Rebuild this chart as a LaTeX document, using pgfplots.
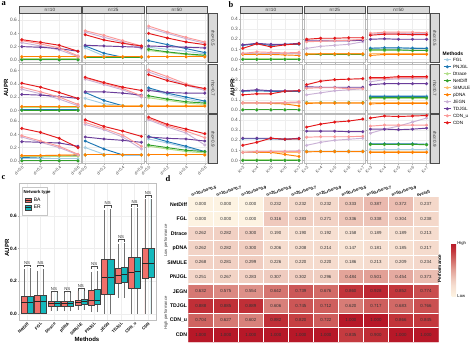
\documentclass[border=0pt]{standalone}
\usepackage{fontspec}
\setmainfont{Liberation Sans}
\newfontfamily\serifb{Liberation Serif}
\usepackage{pgfplots}
\usepackage{pgfplotstable}
\pgfplotsset{compat=1.18}
\usepgfplotslibrary{statistics}

\newcommand{\fs}[1]{\fontsize{#1pt}{#1pt}\selectfont}

\definecolor{cFGL}{HTML}{A6CEE3}
\definecolor{cPNJGL}{HTML}{1F78B4}
\definecolor{cDtrace}{HTML}{B2DF8A}
\definecolor{cNetDiff}{HTML}{33A02C}
\definecolor{cSIMULE}{HTML}{FDBF6F}
\definecolor{cpDNA}{HTML}{FF7F00}
\definecolor{cJEGN}{HTML}{CAB2D6}
\definecolor{cTDJGL}{HTML}{6A3D9A}
\definecolor{cCDNu}{HTML}{FB9A99}
\definecolor{cCDN}{HTML}{E31A1C}
\definecolor{cBA}{HTML}{F0706A}
\definecolor{cER}{HTML}{14B8BC}

\pgfplotsset{
  facet/.style={scale only axis, width=61.8pt, height=49pt, anchor=north west,
    axis line style={draw=gray!55, line width=0.35pt},
    tick pos=left, tick align=outside, major tick length=1.2pt,
    tick style={draw=gray!60, line width=0.3pt},
    grid=major, grid style={draw=gray!13, line width=0.35pt},
    xticklabels={}, yticklabels={},
    yticklabel style={font=\fs{4.8}, text=black!70, inner sep=0.8pt},
    xticklabel style={font=\fs{4.2}, text=black!70},
    every axis plot/.append style={line width=0.95pt, mark=*, mark size=1pt},
  },
  fa/.style={facet, xmin=-0.03, xmax=0.63, ymin=-0.04, ymax=0.70,
    xtick={0,0.2,0.4,0.6}, ytick={0,0.2,0.4,0.6}},
  fb/.style={facet, xmin=2.8, xmax=7.2, ymin=-0.03, ymax=0.455,
    xtick={3,4,5,6,7}, ytick={0,0.1,0.2,0.3,0.4}},
  xla/.style={xticklabels={{d=0.0},{d=0.2},{d=0.4},{d=0.6}},
    xticklabel style={rotate=45, anchor=north east, inner sep=0.5pt}},
  xlb/.style={xticklabels={{K=3},{K=4},{K=5},{K=6},{K=7}},
    xticklabel style={rotate=45, anchor=north east, inner sep=0.5pt}},
  yla/.style={yticklabels={0.0,0.2,0.4,0.6}},
  ylb/.style={yticklabels={0.0,0.1,0.2,0.3,0.4}},
}

\newcommand{\allseries}[1]{%
\addplot[cFGL] table[x=x,y=FGL]{#1};
\addplot[cPNJGL] table[x=x,y=PNJGL]{#1};
\addplot[cDtrace] table[x=x,y=Dtrace]{#1};
\addplot[cNetDiff] table[x=x,y=NetDiff]{#1};
\addplot[cSIMULE] table[x=x,y=SIMULE]{#1};
\addplot[cpDNA] table[x=x,y=pDNA]{#1};
\addplot[cJEGN] table[x=x,y=JEGN]{#1};
\addplot[cTDJGL] table[x=x,y=TDJGL]{#1};
\addplot[cCDNu] table[x=x,y=CDNu]{#1};
\addplot[cCDN] table[x=x,y=CDN]{#1};
}

\newcommand{\bx}[7]{\addplot[forget plot, fill=#2, draw=black!75, line width=0.35pt,
  boxplot prepared={draw position=#1, lower whisker=#3, lower quartile=#4, median=#5,
  upper quartile=#6, upper whisker=#7, box extend=0.45, whisker extend=0}] coordinates {};}
\newcommand{\ns}[5]{\addplot[forget plot, black!70, line width=0.3pt] coordinates {(#1,#5) (#1,#4) (#3,#4) (#3,#5)};
  \node[font=\fs{4.3}, anchor=south, inner sep=0.6pt, text=black!80] at (axis cs:#2,#4) {NS};}

% ---------- panel a data ----------
\pgfplotstableread{
x FGL PNJGL Dtrace NetDiff SIMULE pDNA JEGN TDJGL CDNu CDN
0.0 0.00 0.01 0.02 0.00 0.05 0.045 0.26 0.20 0.29 0.305
0.2 0.00 0.01 0.02 0.00 0.05 0.045 0.21 0.19 0.24 0.265
0.4 0.00 0.01 0.02 0.00 0.05 0.045 0.15 0.17 0.18 0.22
0.6 0.00 0.01 0.02 0.00 0.05 0.045 0.05 0.13 0.06 0.13
}\taaa
\pgfplotstableread{
x FGL PNJGL Dtrace NetDiff SIMULE pDNA JEGN TDJGL CDNu CDN
0.0 0.18 0.21 0.04 0.04 0.05 0.045 0.42 0.22 0.44 0.38
0.2 0.06 0.10 0.04 0.04 0.05 0.045 0.34 0.21 0.37 0.30
0.4 0.04 0.04 0.04 0.04 0.05 0.045 0.27 0.20 0.29 0.25
0.6 0.04 0.04 0.04 0.04 0.05 0.045 0.17 0.19 0.21 0.21
}\taab
\pgfplotstableread{
x FGL PNJGL Dtrace NetDiff SIMULE pDNA JEGN TDJGL CDNu CDN
0.0 0.19 0.29 0.14 0.16 0.05 0.045 0.48 0.21 0.51 0.40
0.2 0.16 0.23 0.11 0.12 0.05 0.045 0.40 0.20 0.42 0.33
0.4 0.13 0.17 0.08 0.09 0.05 0.045 0.32 0.19 0.34 0.27
0.6 0.09 0.11 0.06 0.07 0.05 0.045 0.25 0.18 0.27 0.23
}\taac
\pgfplotstableread{
x FGL PNJGL Dtrace NetDiff SIMULE pDNA JEGN TDJGL CDNu CDN
0.0 0.00 0.01 0.05 0.00 0.06 0.055 0.32 0.24 0.35 0.41
0.2 0.00 0.01 0.05 0.00 0.06 0.055 0.25 0.23 0.28 0.35
0.4 0.00 0.01 0.05 0.00 0.06 0.055 0.17 0.21 0.20 0.27
0.6 0.00 0.01 0.05 0.00 0.06 0.055 0.07 0.18 0.09 0.18
}\taba
\pgfplotstableread{
x FGL PNJGL Dtrace NetDiff SIMULE pDNA JEGN TDJGL CDNu CDN
0.0 0.18 0.27 0.07 0.07 0.07 0.065 0.47 0.28 0.49 0.50
0.2 0.10 0.15 0.07 0.07 0.07 0.065 0.39 0.28 0.41 0.42
0.4 0.07 0.07 0.07 0.07 0.07 0.065 0.31 0.26 0.33 0.35
0.6 0.07 0.07 0.07 0.07 0.07 0.065 0.20 0.23 0.22 0.30
}\tabb
\pgfplotstableread{
x FGL PNJGL Dtrace NetDiff SIMULE pDNA JEGN TDJGL CDNu CDN
0.0 0.32 0.34 0.19 0.22 0.07 0.065 0.58 0.30 0.61 0.54
0.2 0.24 0.26 0.15 0.17 0.07 0.065 0.48 0.27 0.51 0.45
0.4 0.17 0.20 0.11 0.13 0.07 0.065 0.38 0.26 0.40 0.38
0.6 0.12 0.14 0.09 0.11 0.07 0.065 0.30 0.26 0.32 0.33
}\tabc
\pgfplotstableread{
x FGL PNJGL Dtrace NetDiff SIMULE pDNA JEGN TDJGL CDNu CDN
0.0 0.03 0.05 0.07 0.00 0.08 0.08 0.36 0.29 0.38 0.49
0.2 0.03 0.06 0.07 0.00 0.08 0.08 0.28 0.28 0.30 0.43
0.4 0.03 0.07 0.07 0.00 0.085 0.085 0.20 0.27 0.22 0.34
0.6 0.03 0.08 0.07 0.00 0.09 0.09 0.09 0.22 0.10 0.20
}\taca
\pgfplotstableread{
x FGL PNJGL Dtrace NetDiff SIMULE pDNA JEGN TDJGL CDNu CDN
0.0 0.20 0.30 0.09 0.09 0.09 0.09 0.55 0.36 0.58 0.62
0.2 0.10 0.18 0.09 0.09 0.09 0.09 0.47 0.33 0.49 0.52
0.4 0.09 0.09 0.09 0.09 0.09 0.09 0.36 0.31 0.39 0.45
0.6 0.09 0.09 0.09 0.09 0.09 0.09 0.18 0.28 0.22 0.37
}\tacb
\pgfplotstableread{
x FGL PNJGL Dtrace NetDiff SIMULE pDNA JEGN TDJGL CDNu CDN
0.0 0.33 0.37 0.22 0.24 0.09 0.09 0.62 0.36 0.64 0.66
0.2 0.27 0.29 0.18 0.20 0.09 0.09 0.51 0.34 0.53 0.55
0.4 0.20 0.22 0.14 0.16 0.09 0.09 0.42 0.33 0.45 0.48
0.6 0.13 0.14 0.12 0.14 0.09 0.09 0.24 0.30 0.35 0.41
}\tacc
% ---------- panel b data ----------
\pgfplotstableread{
x FGL PNJGL Dtrace NetDiff SIMULE pDNA JEGN TDJGL CDNu CDN
3 0.000 0.140 0.005 0.000 0.060 0.050 0.060 0.145 0.060 0.110
4 0.000 0.155 0.005 0.000 0.060 0.050 0.062 0.160 0.075 0.155
5 0.000 0.140 0.005 0.000 0.060 0.050 0.060 0.150 0.070 0.125
6 0.000 0.150 0.005 0.000 0.060 0.045 0.060 0.150 0.065 0.145
7 0.000 0.150 0.005 0.000 0.060 0.040 0.055 0.160 0.070 0.155
}\tbaa
\pgfplotstableread{
x FGL PNJGL Dtrace NetDiff SIMULE pDNA JEGN TDJGL CDNu CDN
3 0.050 0.050 0.048 0.050 0.055 0.052 0.110 0.185 0.175 0.200
4 0.050 0.050 0.048 0.050 0.055 0.055 0.130 0.185 0.180 0.210
5 0.050 0.050 0.048 0.050 0.055 0.055 0.140 0.185 0.185 0.210
6 0.050 0.050 0.048 0.050 0.055 0.055 0.150 0.185 0.190 0.215
7 0.050 0.050 0.048 0.050 0.055 0.055 0.175 0.190 0.200 0.215
}\tbab
\pgfplotstableread{
x FGL PNJGL Dtrace NetDiff SIMULE pDNA JEGN TDJGL CDNu CDN
3 0.115 0.110 0.085 0.095 0.055 0.040 0.250 0.200 0.260 0.240
4 0.115 0.115 0.085 0.095 0.055 0.050 0.260 0.205 0.270 0.250
5 0.115 0.115 0.085 0.095 0.055 0.050 0.260 0.200 0.270 0.250
6 0.115 0.110 0.085 0.090 0.055 0.050 0.255 0.200 0.270 0.245
7 0.110 0.110 0.085 0.090 0.055 0.050 0.255 0.200 0.265 0.245
}\tbac
\pgfplotstableread{
x FGL PNJGL Dtrace NetDiff SIMULE pDNA JEGN TDJGL CDNu CDN
3 0.000 0.185 0.005 0.000 0.070 0.070 0.070 0.190 0.070 0.150
4 0.000 0.190 0.005 0.000 0.070 0.070 0.070 0.200 0.070 0.160
5 0.000 0.185 0.005 0.000 0.070 0.065 0.070 0.190 0.070 0.160
6 0.000 0.185 0.005 0.000 0.068 0.060 0.070 0.190 0.075 0.185
7 0.000 0.185 0.005 0.000 0.070 0.040 0.075 0.190 0.080 0.190
}\tbba
\pgfplotstableread{
x FGL PNJGL Dtrace NetDiff SIMULE pDNA JEGN TDJGL CDNu CDN
3 0.070 0.070 0.072 0.075 0.070 0.065 0.150 0.230 0.215 0.250
4 0.070 0.070 0.072 0.075 0.070 0.068 0.170 0.225 0.220 0.285
5 0.070 0.070 0.072 0.075 0.070 0.068 0.190 0.225 0.220 0.300
6 0.070 0.070 0.072 0.075 0.070 0.068 0.200 0.225 0.210 0.305
7 0.070 0.070 0.072 0.075 0.070 0.068 0.210 0.225 0.210 0.310
}\tbbb
\pgfplotstableread{
x FGL PNJGL Dtrace NetDiff SIMULE pDNA JEGN TDJGL CDNu CDN
3 0.140 0.130 0.110 0.120 0.070 0.060 0.280 0.250 0.310 0.320
4 0.140 0.130 0.110 0.120 0.070 0.065 0.300 0.260 0.310 0.320
5 0.140 0.130 0.110 0.120 0.070 0.065 0.310 0.260 0.320 0.330
6 0.140 0.130 0.110 0.120 0.070 0.065 0.310 0.260 0.320 0.330
7 0.140 0.130 0.110 0.120 0.070 0.065 0.315 0.260 0.320 0.330
}\tbbc
\pgfplotstableread{
x FGL PNJGL Dtrace NetDiff SIMULE pDNA JEGN TDJGL CDNu CDN
3 0.000 0.215 0.005 0.000 0.080 0.080 0.080 0.220 0.080 0.150
4 0.000 0.215 0.005 0.000 0.085 0.080 0.085 0.220 0.090 0.180
5 0.000 0.215 0.005 0.000 0.085 0.080 0.090 0.220 0.090 0.220
6 0.000 0.210 0.005 0.000 0.080 0.060 0.090 0.210 0.090 0.210
7 0.000 0.215 0.005 0.000 0.080 0.040 0.095 0.220 0.090 0.215
}\tbca
\pgfplotstableread{
x FGL PNJGL Dtrace NetDiff SIMULE pDNA JEGN TDJGL CDNu CDN
3 0.090 0.090 0.090 0.090 0.090 0.085 0.150 0.290 0.230 0.330
4 0.090 0.090 0.090 0.090 0.090 0.088 0.180 0.290 0.235 0.360
5 0.090 0.090 0.090 0.090 0.090 0.088 0.200 0.290 0.235 0.380
6 0.090 0.090 0.090 0.090 0.090 0.088 0.210 0.285 0.235 0.390
7 0.090 0.090 0.090 0.090 0.090 0.088 0.220 0.285 0.240 0.410
}\tbcb
\pgfplotstableread{
x FGL PNJGL Dtrace NetDiff SIMULE pDNA JEGN TDJGL CDNu CDN
3 0.110 0.165 0.155 0.160 0.085 0.080 0.270 0.310 0.340 0.420
4 0.110 0.165 0.155 0.160 0.085 0.080 0.310 0.310 0.350 0.440
5 0.110 0.165 0.155 0.160 0.085 0.080 0.340 0.305 0.350 0.435
6 0.110 0.165 0.155 0.160 0.085 0.080 0.380 0.310 0.350 0.440
7 0.110 0.160 0.155 0.155 0.085 0.080 0.420 0.320 0.350 0.445
}\tbcc
% ---------- panel d data ----------
\pgfplotstableread{
x y v
0 0 1.000
1 0 1.000
2 0 1.000
3 0 1.000
4 0 1.000
5 0 1.000
6 0 0.835
7 0 0.900
8 0 1.000
9 0 1.000
0 1 0.704
1 1 0.627
2 1 0.602
3 1 0.882
4 1 0.820
5 1 0.722
6 1 1.000
7 1 1.000
8 1 0.866
9 1 0.845
0 2 0.888
1 2 0.885
2 2 0.889
3 2 0.606
4 2 0.745
5 2 0.712
6 2 0.620
7 2 0.717
8 2 0.683
9 2 0.766
0 3 0.632
1 3 0.575
2 3 0.554
3 3 0.642
4 3 0.739
5 3 0.676
6 3 0.860
7 3 0.928
8 3 0.852
9 3 0.774
0 4 0.251
1 4 0.267
2 4 0.283
3 4 0.307
4 4 0.302
5 4 0.296
6 4 0.484
7 4 0.501
8 4 0.454
9 4 0.373
0 5 0.268
1 5 0.281
2 5 0.299
3 5 0.226
4 5 0.220
5 5 0.220
6 5 0.186
7 5 0.213
8 5 0.209
9 5 0.234
0 6 0.262
1 6 0.282
2 6 0.300
3 6 0.206
4 6 0.208
5 6 0.214
6 6 0.147
7 6 0.181
8 6 0.185
9 6 0.217
0 7 0.262
1 7 0.282
2 7 0.300
3 7 0.190
4 7 0.190
5 7 0.192
6 7 0.158
7 7 0.189
8 7 0.189
9 7 0.213
0 8 0.000
1 8 0.000
2 8 0.000
3 8 0.316
4 8 0.283
5 8 0.271
6 8 0.336
7 8 0.338
8 8 0.304
9 8 0.238
0 9 0.000
1 9 0.000
2 9 0.000
3 9 0.232
4 9 0.232
5 9 0.232
6 9 0.333
7 9 0.387
8 9 0.372
9 9 0.237
}\heat

\begin{document}
\begin{tikzpicture}[x=1pt,y=1pt]
\tikzset{strip/.style={draw=black!70, fill=gray!30, line width=0.3pt}}
% ================= panel a =================
\begin{axis}[fa, yla, at={(19pt,-13.5pt)}] \allseries{\taaa} \end{axis}
\begin{axis}[fa, at={(82.4pt,-13.5pt)}] \allseries{\taab} \end{axis}
\begin{axis}[fa, at={(145.8pt,-13.5pt)}] \allseries{\taac} \end{axis}
\begin{axis}[fa, yla, at={(19pt,-64pt)}] \allseries{\taba} \end{axis}
\begin{axis}[fa, at={(82.4pt,-64pt)}] \allseries{\tabb} \end{axis}
\begin{axis}[fa, at={(145.8pt,-64pt)}] \allseries{\tabc} \end{axis}
\begin{axis}[fa, yla, xla, at={(19pt,-114.5pt)}] \allseries{\taca} \end{axis}
\begin{axis}[fa, xla, at={(82.4pt,-114.5pt)}] \allseries{\tacb} \end{axis}
\begin{axis}[fa, xla, at={(145.8pt,-114.5pt)}] \allseries{\tacc} \end{axis}
% ================= panel b =================
\begin{axis}[fb, ylb, at={(240pt,-13.5pt)}] \allseries{\tbaa} \end{axis}
\begin{axis}[fb, at={(303.8pt,-13.5pt)}] \allseries{\tbab} \end{axis}
\begin{axis}[fb, at={(367.6pt,-13.5pt)}] \allseries{\tbac} \end{axis}
\begin{axis}[fb, ylb, at={(240pt,-64pt)}] \allseries{\tbba} \end{axis}
\begin{axis}[fb, at={(303.8pt,-64pt)}] \allseries{\tbbb} \end{axis}
\begin{axis}[fb, at={(367.6pt,-64pt)}] \allseries{\tbbc} \end{axis}
\begin{axis}[fb, ylb, xlb, at={(240pt,-114.5pt)}] \allseries{\tbca} \end{axis}
\begin{axis}[fb, xlb, at={(303.8pt,-114.5pt)}] \allseries{\tbcb} \end{axis}
\begin{axis}[fb, xlb, at={(367.6pt,-114.5pt)}] \allseries{\tbcc} \end{axis}

% strips
\foreach \xx/\lab in {19/n=10, 82.4/n=25, 145.8/n=50, 240/n=10, 303.8/n=25, 367.6/n=50} {
  \draw[strip] (\xx,-6.3) rectangle ++(61.8,-7.2);
  \node[font=\fs{4.6}, text=black!80, inner sep=0] at (\xx+30.9,-9.9) {\lab};
}
\foreach \xx in {208.6, 430.4} {
  \foreach \yy/\lab in {13.5/rho=0.5, 64/rho=0.7, 114.5/rho=0.9} {
    \draw[strip] (\xx,-\yy) rectangle ++(8.7,-49);
    \node[rotate=-90, font=\fs{4.6}, text=black!80, inner sep=0] at (\xx+4.35,-\yy-24.5) {\lab};
  }
}
\node[rotate=90, font=\fs{6}\bfseries] at (6,-88) {AUPR};
\node[rotate=90, font=\fs{6}\bfseries] at (232.5,-88) {AUPR};

% methods legend
\node[font=\fs{5}\bfseries, anchor=west, inner sep=0] at (442.5,-53.5) {Methods};
\begin{axis}[hide axis, scale only axis, width=10pt, height=10pt, at={(443pt,-56.8pt)}, anchor=north west,
  xmin=0, xmax=1, ymin=0, ymax=1,
  legend style={at={(0,1)}, anchor=north west, draw=none, fill=none, font=\fs{4.6},
    inner sep=0pt, row sep=1.4pt, column sep=1.2pt,
    nodes={inner sep=0.6pt, text height=3.4pt, text depth=1pt}, cells={anchor=west}},
  legend image code/.code={\draw[mark repeat=2, mark phase=2, #1] plot coordinates {(0pt,0pt) (3.6pt,0pt) (7.2pt,0pt)};}]
\addlegendimage{cFGL, line width=0.95pt, mark=*, mark size=1pt}\addlegendentry{FGL}
\addlegendimage{cPNJGL, line width=0.95pt, mark=*, mark size=1pt}\addlegendentry{PNJGL}
\addlegendimage{cDtrace, line width=0.95pt, mark=*, mark size=1pt}\addlegendentry{Dtrace}
\addlegendimage{cNetDiff, line width=0.95pt, mark=*, mark size=1pt}\addlegendentry{NetDiff}
\addlegendimage{cSIMULE, line width=0.95pt, mark=*, mark size=1pt}\addlegendentry{SIMULE}
\addlegendimage{cpDNA, line width=0.95pt, mark=*, mark size=1pt}\addlegendentry{pDNA}
\addlegendimage{cJEGN, line width=0.95pt, mark=*, mark size=1pt}\addlegendentry{JEGN}
\addlegendimage{cTDJGL, line width=0.95pt, mark=*, mark size=1pt}\addlegendentry{TDJGL}
\addlegendimage{cCDNu, line width=0.95pt, mark=*, mark size=1pt}\addlegendentry{CDN\_u}
\addlegendimage{cCDN, line width=0.95pt, mark=*, mark size=1pt}\addlegendentry{CDN}
\end{axis}

% ================= panel c =================
\begin{axis}[scale only axis, width=137pt, height=137pt, at={(19pt,-183pt)}, anchor=north west,
  xmin=0.4, xmax=10.6, ymin=-0.037, ymax=0.80,
  xtick={1,2,3,4,5,6,7,8,9,10},
  xticklabels={NetDiff,FGL,Dtrace,pDNA,SIMULE,PNJGL,JEGN,TDJGL,CDN\_u,CDN},
  xticklabel style={rotate=45, anchor=north east, font=\fs{4.1}\bfseries, inner sep=0.5pt},
  ytick={0,0.2,0.4,0.6}, yticklabels={0.0,0.2,0.4,0.6},
  yticklabel style={font=\fs{4.8}\bfseries, inner sep=0.8pt},
  tick pos=left, tick align=outside, major tick length=1.2pt,
  tick style={draw=gray!60, line width=0.3pt},
  grid=major, grid style={draw=gray!13, line width=0.35pt},
  axis line style={draw=gray!50, line width=0.35pt},
  boxplot/draw direction=y,
  boxplot/every median/.style={draw=black!85, line width=0.9pt},
  boxplot/every whisker/.style={draw=black!55, line width=0.4pt},
  legend style={at={(0.040,0.898)}, anchor=north west, draw=none, fill=none, font=\fs{5},
    inner sep=0pt, row sep=1.5pt, column sep=1.5pt,
    nodes={inner sep=0.6pt, text height=3.6pt, text depth=1pt}, cells={anchor=west}}]
\bx{0.775}{cBA}{0}{0.004}{0.073}{0.107}{0.275}
\bx{1.225}{cER}{0}{0.004}{0.073}{0.108}{0.280}
\bx{1.775}{cBA}{0}{0.004}{0.078}{0.112}{0.265}
\bx{2.225}{cER}{0}{0.004}{0.078}{0.115}{0.275}
\bx{2.775}{cBA}{0.015}{0.048}{0.062}{0.077}{0.125}
\bx{3.225}{cER}{0.015}{0.050}{0.063}{0.078}{0.125}
\bx{3.775}{cBA}{0.015}{0.045}{0.065}{0.078}{0.125}
\bx{4.225}{cER}{0.015}{0.047}{0.066}{0.080}{0.127}
\bx{4.775}{cBA}{0.025}{0.056}{0.072}{0.087}{0.140}
\bx{5.225}{cER}{0.025}{0.058}{0.074}{0.090}{0.140}
\bx{5.775}{cBA}{0.010}{0.056}{0.082}{0.146}{0.255}
\bx{6.225}{cER}{0.010}{0.060}{0.083}{0.152}{0.265}
\bx{6.775}{cBA}{0}{0.122}{0.224}{0.333}{0.635}
\bx{7.225}{cER}{0}{0.120}{0.226}{0.337}{0.640}
\bx{7.775}{cBA}{0.100}{0.190}{0.234}{0.280}{0.430}
\bx{8.225}{cER}{0.100}{0.195}{0.240}{0.285}{0.435}
\bx{8.775}{cBA}{0}{0.155}{0.256}{0.348}{0.645}
\bx{9.225}{cER}{0}{0.158}{0.260}{0.348}{0.650}
\bx{9.775}{cBA}{0}{0.220}{0.309}{0.402}{0.700}
\bx{10.225}{cER}{0}{0.222}{0.310}{0.402}{0.705}
\ns{0.775}{1}{1.225}{0.300}{0.285}
\ns{1.775}{2}{2.225}{0.300}{0.285}
\ns{2.775}{3}{3.225}{0.140}{0.125}
\ns{3.775}{4}{4.225}{0.140}{0.125}
\ns{4.775}{5}{5.225}{0.157}{0.142}
\ns{5.775}{6}{6.225}{0.290}{0.275}
\ns{6.775}{7}{7.225}{0.665}{0.650}
\ns{7.775}{8}{8.225}{0.455}{0.440}
\ns{8.775}{9}{9.225}{0.670}{0.655}
\ns{9.775}{10}{10.225}{0.725}{0.710}
\draw[fill=white, draw=gray!45, line width=0.3pt] (rel axis cs:0.0197,0.9686) rectangle (rel axis cs:0.2022,0.7686);
\node[anchor=west, font=\fs{4.3}\bfseries, inner sep=0] at (rel axis cs:0.032,0.932) {Network type};
\addlegendimage{legend image code/.code={\draw[fill=cBA,draw=black!75,line width=0.35pt] (0pt,-2.3pt) rectangle (6.5pt,2.3pt); \draw[black!85,line width=0.6pt] (0pt,0pt) -- (6.5pt,0pt);}}
\addlegendentry{BA}
\addlegendimage{legend image code/.code={\draw[fill=cER,draw=black!75,line width=0.35pt] (0pt,-2.3pt) rectangle (6.5pt,2.3pt); \draw[black!85,line width=0.6pt] (0pt,0pt) -- (6.5pt,0pt);}}
\addlegendentry{ER}
\end{axis}
\node[rotate=90, font=\fs{6}\bfseries] at (7,-248) {AUPR};
\node[font=\fs{6}\bfseries] at (87,-339.3) {Methods};

% ================= panel d =================
\begin{axis}[scale only axis, width=250.2pt, height=145pt, at={(188.3pt,-197pt)}, anchor=north west,
  xmin=-0.5, xmax=9.5, ymin=-0.5, ymax=9.5, enlargelimits=false,
  axis line style={draw=none}, major tick length=0pt,
  xtick={0,1,2,3,4,5,6,7,8,9}, xticklabel pos=upper,
  xticklabels={{n=10,rho=0.5},{n=10,rho=0.7},{n=10,rho=0.9},{n=25,rho=0.5},{n=25,rho=0.7},{n=25,rho=0.9},{n=50,rho=0.5},{n=50,rho=0.7},{n=50,rho=0.9},{overall}},
  xticklabel style={rotate=18, anchor=south west, xshift=-9pt, yshift=2pt, font=\fs{4.2}\bfseries, inner sep=0.5pt},
  ytick={0,1,2,3,4,5,6,7,8,9},
  yticklabels={CDN,CDN\_u,TDJGL,JEGN,PNJGL,SIMULE,pDNA,Dtrace,FGL,NetDiff},
  yticklabel style={font=\fs{5.2}\bfseries, anchor=east, inner sep=1pt},
  colormap={perf}{[1pt] rgb255(0pt)=(253,243,226); rgb255(20pt)=(246,222,208); rgb255(30pt)=(240,205,192); rgb255(50pt)=(226,160,150); rgb255(65pt)=(212,115,110); rgb255(85pt)=(195,55,60); rgb255(100pt)=(183,24,40)},
  point meta min=0, point meta max=1,
  colorbar,
  colorbar style={at={(parent axis.east)}, anchor=west, xshift=4.7pt, width=4.5pt, height=53pt,
    scale only axis, ytick={0,1}, yticklabels={Low,High}, major tick length=0pt,
    axis line style={draw=none}, yticklabel style={font=\fs{4.2}, inner sep=1pt}}]
\addplot[matrix plot*, mesh/cols=10, point meta=explicit] table[x=x, y=y, meta=v]{\heat};
\pgfplotsinvokeforeach{0.5,1.5,2.5,3.5,4.5,5.5,6.5,7.5,8.5}{
  \draw[white, line width=0.35pt] (axis cs:#1,-0.5) -- (axis cs:#1,9.5);
  \draw[white, line width=0.35pt] (axis cs:-0.5,#1) -- (axis cs:9.5,#1);
}
\draw[white, line width=1.5pt] (axis cs:-0.5,3.5) -- (axis cs:9.5,3.5);
\addplot[draw=none, mark=none, point meta=explicit symbolic, nodes near coords,
  every node near coord/.style={font=\fs{4.4}, text=black!80, anchor=center, inner sep=0}]
  table[x=x, y=y, meta=v]{\heat};
\end{axis}
\node[rotate=90, font=\fs{4.2}, text=black!75] at (166,-240.5) {Low performance};
\node[rotate=90, font=\fs{4.2}, text=black!75] at (166,-313) {High performance};
\node[rotate=90, font=\fs{4.6}\bfseries] at (439.5,-268.5) {Performance};

% panel letters
\node[font=\serifb\bfseries\fs{8.5}, anchor=north west, inner sep=0] at (1.5,-1.2) {a};
\node[font=\serifb\bfseries\fs{8.5}, anchor=north west, inner sep=0] at (228.5,-1.2) {b};
\node[font=\serifb\bfseries\fs{8.5}, anchor=north west, inner sep=0] at (1.5,-175) {c};
\node[font=\serifb\bfseries\fs{8.5}, anchor=north west, inner sep=0] at (165.5,-175.5) {d};

\pgfresetboundingbox
\path[use as bounding box] (0,0) rectangle (474,-343);
\end{tikzpicture}
\end{document}
